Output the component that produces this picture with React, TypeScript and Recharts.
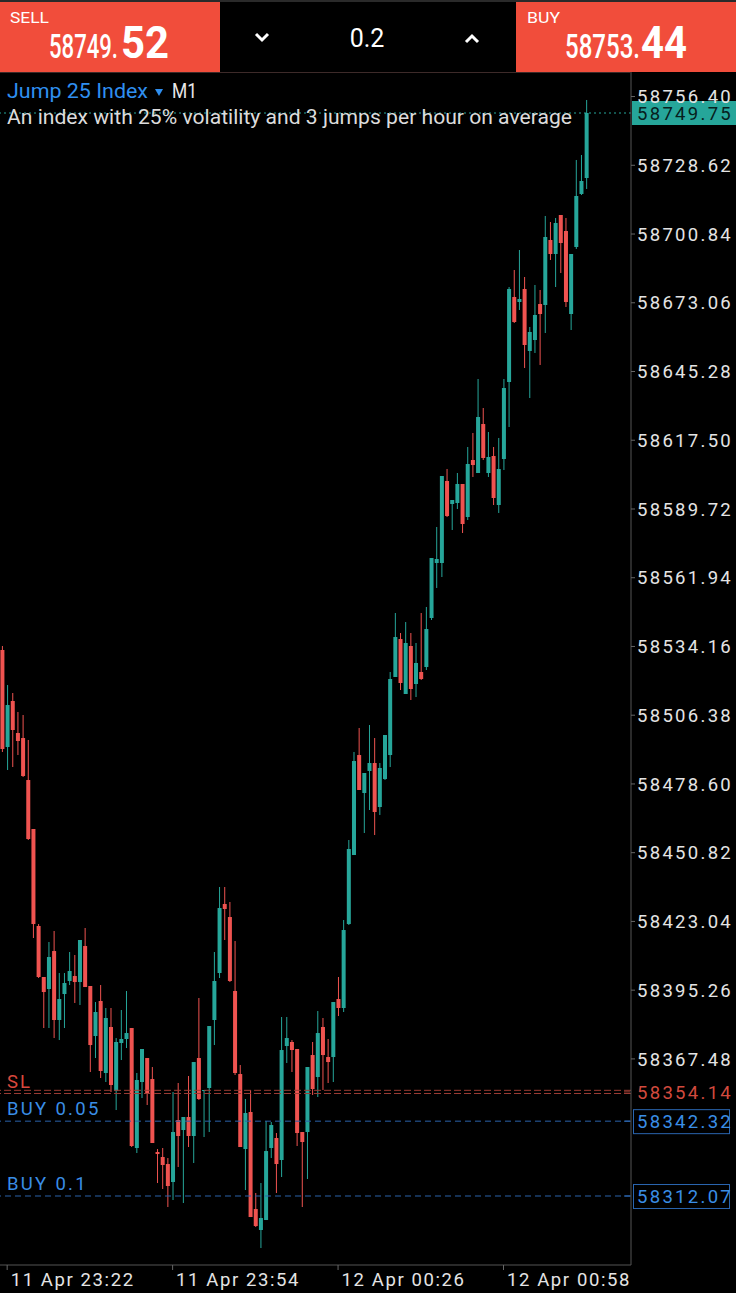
import React from 'react';
import { ComposedChart, Bar, XAxis, YAxis, ReferenceLine } from 'recharts';

const OPEN = [58532.73,58493.53,58512.12,58499.19,58497.16,58480.19,58460.39,58421.19,58400.58,58395.73,58411.08,58383.20,58393.70,58398.96,58400.98,58398.55,58413.10,58396.94,58376.73,58390.88,58361.78,58380.37,58354.50,58373.90,58375.52,58379.96,58331.47,58358.14,58367.84,58359.35,58329.85,58327.83,58325.00,58317.73,58342.78,58338.74,58344.00,58336.32,58367.84,58354.50,58355.72,58383.20,58402.19,58430.08,58424.82,58394.92,58361.37,58331.06,58346.02,58306.81,58298.33,58302.37,58331.47,58335.51,58326.62,58372.69,58374.31,58371.48,58337.93,58337.93,58369.05,58360.16,58380.37,58368.24,58368.24,58391.68,58388.05,58421.99,58449.88,58490.29,58474.94,58483.83,58487.06,58469.28,58480.59,58490.29,58521.82,58537.17,58514.95,58534.35,58518.99,58523.84,58525.86,58545.66,58567.89,58567.89,58601.03,58591.73,58592.14,58599.82,58586.48,58609.52,58604.26,58624.06,58604.26,58611.13,58591.33,58609.92,58641.04,58675.39,58673.37,58678.62,58653.57,58658.01,58672.56,58672.16,58698.43,58692.77,58708.53,58702.06,58668.52,58695.60,58717.02,58723.48];
const HIGH = [58534.35,58518.58,58515.35,58507.67,58506.46,58496.36,58460.39,58421.99,58400.58,58414.72,58419.17,58402.19,58402.19,58410.68,58409.47,58415.53,58420.38,58396.94,58390.47,58397.34,58388.05,58388.05,58375.92,58387.24,58394.92,58379.96,58361.78,58371.48,58367.84,58364.20,58331.06,58331.47,58327.42,58354.10,58357.74,58344.00,58360.57,58366.22,58392.09,58354.91,58380.77,58410.68,58436.95,58436.95,58430.89,58415.12,58365.01,58351.27,58354.91,58313.28,58317.32,58342.38,58341.97,58337.53,58384.41,58384.41,58375.11,58371.48,58337.93,58364.20,58374.31,58386.83,58384.01,58375.52,58390.47,58400.58,58423.61,58455.94,58491.51,58501.21,58483.02,58502.42,58497.16,58487.06,58498.38,58523.84,58547.68,58539.60,58544.04,58539.60,58535.56,58547.68,58550.11,58569.91,58582.44,58603.05,58605.88,58593.35,58604.26,58599.82,58614.77,58620.43,58642.25,58630.53,58620.83,58614.77,58618.41,58642.25,58679.43,58686.30,58694.38,58683.47,58663.27,58680.24,58678.22,58708.13,58705.70,58707.32,58708.53,58707.32,58692.77,58730.76,58732.78,58755.01];
const LOW = [58491.51,58484.23,58485.44,58490.29,58481.40,58455.94,58416.34,58400.17,58379.96,58379.96,58375.92,58375.11,58379.96,58397.34,58390.07,58389.26,58396.53,58362.18,58367.84,58359.76,58358.14,58354.10,58346.82,58367.03,58371.88,58331.87,58329.45,58351.67,58348.85,58333.49,58317.32,58314.90,58307.62,58310.45,58323.79,58309.24,58331.87,58325.41,58350.87,58335.91,58337.93,58373.09,58400.17,58415.53,58398.55,58360.97,58331.87,58314.49,58303.58,58299.54,58291.05,58302.37,58327.42,58313.28,58319.75,58365.82,58362.18,58332.28,58307.62,58318.94,58352.89,58352.08,58354.91,58357.74,58358.14,58384.81,58386.43,58421.59,58449.88,58476.15,58458.77,58468.07,58457.96,58466.05,58480.19,58485.44,58521.82,58516.56,58514.95,58512.52,58513.73,58520.60,58524.65,58544.85,58557.79,58562.23,58586.48,58581.23,58589.71,58580.01,58585.27,58602.65,58604.26,58609.52,58602.65,58591.33,58588.10,58605.47,58622.85,58664.88,58670.14,58646.70,58634.57,58652.76,58647.91,58660.84,58690.34,58679.43,58685.09,58671.35,58662.05,58694.79,58716.61,58719.04];
const CLOSE = [58492.72,58510.50,58500.40,58495.95,58481.81,58456.35,58421.99,58400.58,58394.51,58408.66,58383.20,58391.68,58398.15,58403.00,58398.55,58415.53,58396.53,58373.09,58386.43,58362.59,58384.01,58356.93,58374.31,58375.52,58377.94,58332.28,58358.95,58371.48,58353.69,58333.49,58329.04,58324.60,58316.11,58337.93,58336.32,58344.00,58336.32,58366.22,58351.27,58354.91,58380.77,58398.96,58428.46,58428.06,58398.96,58361.78,58331.87,58345.61,58303.58,58299.94,58303.18,58330.25,58340.76,58325.00,58371.07,58375.92,58371.07,58337.53,58333.89,58364.20,58355.31,58377.94,58369.05,58366.22,58390.47,58388.05,58419.57,58452.31,58487.87,58476.15,58483.02,58487.06,58467.26,58485.04,58498.38,58521.01,58537.98,58519.39,58535.56,58516.97,58527.48,58521.01,58541.22,58569.91,58569.51,58603.05,58586.88,58593.35,58599.82,58583.65,58607.90,58607.49,58626.89,58610.32,58610.73,58594.16,58605.88,58638.61,58678.62,58665.29,58674.58,58655.99,58661.25,58668.12,58668.52,58699.64,58692.77,58705.30,58697.21,58673.37,58692.77,58716.21,58722.27,58749.75];

const TIME_TICKS = [1, 33, 65, 97];
const TIME_LABELS = ['11 Apr 23:22', '11 Apr 23:54', '12 Apr 00:26', '12 Apr 00:58'];
const PRICE_TICKS = [58756.40, 58728.62, 58700.84, 58673.06, 58645.28, 58617.50, 58589.72, 58561.94, 58534.16, 58506.38, 58478.60, 58450.82, 58423.04, 58395.26, 58367.48];
const PRICE_DOMAIN = [58284.19, 58766.32];
const INDEX_DOMAIN = [-0.387, 121.66];

const SL_PRICE = 58354.14;
const BUY1_PRICE = 58342.32;
const BUY2_PRICE = 58312.07;
const SELL_PRICE = ['58749.', '52'];
const BUY_PRICE = ['58753.', '44'];
const LOT = '0.2';

const TEAL = '#26a69a';
const RED = '#ef5350';
const BLUE = '#3a8ee6';
const HEADER_RED = '#f14d3b';
const FONT = 'Roboto, "Noto Sans", sans-serif';

const rows = OPEN.map((o, i) => ({ i, open: o, high: HIGH[i], low: LOW[i], close: CLOSE[i] }));

const Candle = (props: any) => {
  const { x, y, width, height, payload } = props;
  if (!payload) return null;
  const { open, close, high, low } = payload;
  const top = Math.min(y, y + height);
  const h = Math.abs(height);
  const ppu = h / (high - low || 1);
  const cx = x + width / 2;
  const yOf = (v: number) => top + (high - v) * ppu;
  const up = close >= open;
  const color = up ? TEAL : RED;
  const bt = yOf(Math.max(open, close));
  const bb = yOf(Math.min(open, close));
  return (
    <g>
      <line x1={cx} x2={cx} y1={top} y2={top + h} stroke={color} strokeWidth={1} />
      <rect x={cx - 2} y={bt} width={4} height={Math.max(1, bb - bt)} fill={color} />
    </g>
  );
};

const PriceTick = (p: any) => (
  <g>
    <text x={p.x} y={p.y} dy={6.6} fill="#e4e4e4" fontSize={18.5} fontFamily={FONT} letterSpacing={2.3}>
      {Number(p.payload.value).toFixed(2)}
    </text>
  </g>
);

const TimeTick = (p: any) => {
  const idx = TIME_TICKS.indexOf(p.payload.value);
  return (
    <text x={p.x + 3.5} y={p.y} dy={13.5} fill="#e4e4e4" fontSize={18.5} fontFamily={FONT} letterSpacing={1.6}>
      {TIME_LABELS[idx]}
    </text>
  );
};

const makeTag = (kind: 'last' | 'sl' | 'buy', value: number, leftText?: string) => (props: any) => {
  const vb = props.viewBox || {};
  const y = vb.y;
  const right = (vb.x || 0) + (vb.width || 0);
  const txt = value.toFixed(2);
  if (kind === 'last') {
    return (
      <g>
        <rect x={right + 1} y={y - 12} width={105} height={24} fill={TEAL} />
        <text x={right + 6} y={y} dy={6.6} fill="#06201d" fontSize={18.5} fontFamily={FONT} letterSpacing={2.3}>{txt}</text>
      </g>
    );
  }
  if (kind === 'sl') {
    return (
      <g>
        <text x={7} y={y - 4} fill="#d9483d" fontSize={18.5} fontFamily={FONT} letterSpacing={2}>{leftText}</text>
        <line x1={right - 7} x2={right - 1} y1={y} y2={y} stroke="#a8443a" strokeWidth={1} />
        <text x={right + 6} y={y} dy={6.6} fill="#d24a3e" fontSize={18.5} fontFamily={FONT} letterSpacing={2.3}>{txt}</text>
      </g>
    );
  }
  return (
    <g>
      <text x={7} y={y - 6} fill={BLUE} fontSize={18.5} fontFamily={FONT} letterSpacing={2.3}>{leftText}</text>
      <line x1={right - 7} x2={right - 1} y1={y} y2={y} stroke="#2f6fbf" strokeWidth={1} />
      <rect x={right + 2.5} y={y - 11.5} width={96} height={24} fill="#000" stroke="#2a65b0" strokeWidth={1} />
      <text x={right + 6} y={y} dy={6.6} fill={BLUE} fontSize={18.5} fontFamily={FONT} letterSpacing={2.3}>{txt}</text>
    </g>
  );
};

const DoubleDash = (p: any) => (
  <g>
    <line x1={p.x1} x2={p.x2} y1={p.y1 - 1.6} y2={p.y2 - 1.6} stroke="#9a3b33" strokeWidth={1} strokeDasharray="7 3" />
    <line x1={p.x1} x2={p.x2} y1={p.y1 + 1.6} y2={p.y2 + 1.6} stroke="#9a3b33" strokeWidth={1} strokeDasharray="7 3" />
  </g>
);

const Squeezed = ({ x, y, sx, len, size, weight, children }: any) => (
  <text
    transform={`translate(${x},${y}) scale(${sx},1)`}
    x={0}
    y={0}
    fill="#fff"
    fontSize={size}
    fontFamily={FONT}
    fontWeight={weight}
    textLength={len / sx}
    lengthAdjust="spacingAndGlyphs"
  >
    {children}
  </text>
);

const Header = () => (
  <svg width={736} height={130} style={{ position: 'absolute', left: 0, top: 0, pointerEvents: 'none' }}>
    <rect x={0} y={0} width={736} height={2} fill="#2a2a2a" />
    <rect x={0} y={2} width={220} height={70} fill={HEADER_RED} />
    <rect x={516} y={2} width={220} height={70} fill={HEADER_RED} />
    <text x={10} y={23} fill="#fff" fontSize={14} fontFamily={FONT} textLength={39} lengthAdjust="spacingAndGlyphs">SELL</text>
    <Squeezed x={49} y={57.5} sx={0.68} len={69} size={33} weight={500}>{SELL_PRICE[0]}</Squeezed>
    <Squeezed x={121} y={57.5} sx={0.92} len={48} size={45} weight={700}>{SELL_PRICE[1]}</Squeezed>
    <text x={527} y={23} fill="#fff" fontSize={14} fontFamily={FONT} textLength={33} lengthAdjust="spacingAndGlyphs">BUY</text>
    <Squeezed x={565} y={57.5} sx={0.74} len={75} size={33} weight={500}>{BUY_PRICE[0]}</Squeezed>
    <Squeezed x={641} y={57.5} sx={0.9} len={46} size={45} weight={700}>{BUY_PRICE[1]}</Squeezed>
    <polyline points="256,34 262,40 268,34" fill="none" stroke="#fff" strokeWidth={3} />
    <text x={367} y={47} fill="#fff" fontSize={25} fontFamily={FONT} textAnchor="middle">{LOT}</text>
    <polyline points="466,42 472,36 478,42" fill="none" stroke="#fff" strokeWidth={3} />
    <line x1={0} x2={631} y1={72.5} y2={72.5} stroke="#3d2a29" strokeWidth={1} />
    <text x={7} y={98} fill="#2f8ff0" fontSize={19.5} fontFamily={FONT} textLength={141} lengthAdjust="spacingAndGlyphs">Jump 25 Index</text>
    <polygon points="155,89 163,89 159,96" fill="#2f8ff0" />
    <text x={172} y={98} fill="#e8e8e8" fontSize={19.5} fontFamily={FONT} textLength={25} lengthAdjust="spacingAndGlyphs">M1</text>
    <text x={7} y={124} fill="#dcdcdc" fontSize={19.5} fontFamily={FONT} textLength={565} lengthAdjust="spacingAndGlyphs">An index with 25% volatility and 3 jumps per hour on average</text>
  </svg>
);

export default function App() {
  const last = CLOSE[CLOSE.length - 1];
  return (
    <div style={{ position: 'absolute', left: 0, top: 0, width: 736, height: 1293, background: '#000', overflow: 'hidden' }}>
      <ComposedChart width={736} height={1293} data={rows} margin={{ top: 72, right: 0, bottom: 0, left: 0 }}>
        <XAxis
          dataKey="i"
          type="number"
          domain={INDEX_DOMAIN}
          allowDataOverflow
          ticks={TIME_TICKS}
          interval={0}
          height={28}
          axisLine={{ stroke: '#555' }}
          tickLine={{ stroke: '#666' }}
          tickSize={5}
          tick={<TimeTick />}
        />
        <YAxis
          orientation="right"
          type="number"
          domain={PRICE_DOMAIN}
          allowDataOverflow
          ticks={PRICE_TICKS}
          interval={0}
          width={105}
          axisLine={{ stroke: '#555' }}
          tickLine={{ stroke: '#666' }}
          tickSize={4}
          tick={<PriceTick />}
        />
        <ReferenceLine y={SL_PRICE} shape={<DoubleDash />} label={makeTag('sl', SL_PRICE, 'SL')} />
        <ReferenceLine y={BUY1_PRICE} stroke="#2a62aa" strokeDasharray="6 4" label={makeTag('buy', BUY1_PRICE, 'BUY 0.05')} />
        <ReferenceLine y={BUY2_PRICE} stroke="#2a62aa" strokeDasharray="6 4" label={makeTag('buy', BUY2_PRICE, 'BUY 0.1')} />
        <ReferenceLine y={last} stroke={TEAL} strokeDasharray="2 3" label={makeTag('last', last)} />
        <Bar dataKey={(d: any) => [d.low, d.high]} barSize={4} shape={<Candle />} isAnimationActive={false} />
      </ComposedChart>
      <Header />
    </div>
  );
}
